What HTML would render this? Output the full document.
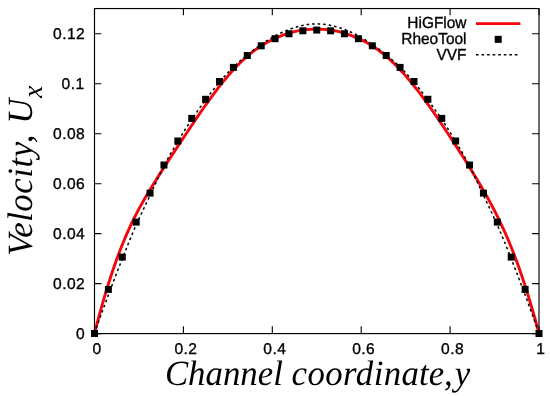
<!DOCTYPE html>
<html><head><meta charset="utf-8"><title>Velocity profile</title>
<style>
html,body{margin:0;padding:0;background:#fff;}
body{width:550px;height:396px;overflow:hidden;}
svg{display:block;}
text{text-rendering:geometricPrecision;}
.t{font-family:"Liberation Sans",sans-serif;font-size:15.6px;fill:#000;letter-spacing:0.45px;stroke:#000;stroke-width:0.35px;}
.k{font-family:"Liberation Sans",sans-serif;font-size:16px;fill:#000;stroke:#000;stroke-width:0.35px;}
.l{font-family:"Liberation Serif",serif;font-style:italic;fill:#000;}
</style></head><body>
<svg width="550" height="396" viewBox="0 0 550 396">
<rect width="550" height="396" fill="#fff"/>

<g stroke="#000" stroke-width="1.1" fill="none">
<path d="M94.50,333.6 v-7.3 M94.50,8.55 v6.8"/>
<path d="M183.40,333.6 v-7.3 M183.40,8.55 v6.8"/>
<path d="M272.30,333.6 v-7.3 M272.30,8.55 v6.8"/>
<path d="M361.20,333.6 v-7.3 M361.20,8.55 v6.8"/>
<path d="M450.10,333.6 v-7.3 M450.10,8.55 v6.8"/>
<path d="M539.00,333.6 v-7.3 M539.00,8.55 v6.8"/>
<path d="M94.5,333.60 h6.9 M539.0,333.60 h-6.9"/>
<path d="M94.5,283.63 h6.9 M539.0,283.63 h-6.9"/>
<path d="M94.5,233.66 h6.9 M539.0,233.66 h-6.9"/>
<path d="M94.5,183.69 h6.9 M539.0,183.69 h-6.9"/>
<path d="M94.5,133.72 h6.9 M539.0,133.72 h-6.9"/>
<path d="M94.5,83.75 h6.9 M539.0,83.75 h-6.9"/>
<path d="M94.5,33.78 h6.9 M539.0,33.78 h-6.9"/>
</g>
<text class="t" x="85.2" y="339.00" text-anchor="end">0</text>
<text class="t" x="85.2" y="289.03" text-anchor="end">0.02</text>
<text class="t" x="85.2" y="239.06" text-anchor="end">0.04</text>
<text class="t" x="85.2" y="189.09" text-anchor="end">0.06</text>
<text class="t" x="85.2" y="139.12" text-anchor="end">0.08</text>
<text class="t" x="84.60000000000001" y="89.15" text-anchor="end">0.1</text>
<text class="t" x="85.2" y="39.18" text-anchor="end">0.12</text>
<text class="t" x="97.00" y="353.8" text-anchor="middle">0</text>
<text class="t" x="185.90" y="353.8" text-anchor="middle">0.2</text>
<text class="t" x="274.80" y="353.8" text-anchor="middle">0.4</text>
<text class="t" x="363.70" y="353.8" text-anchor="middle">0.6</text>
<text class="t" x="452.60" y="353.8" text-anchor="middle">0.8</text>
<text class="t" x="540.70" y="353.8" text-anchor="middle">1</text>
<path d="M94.50,333.50 L96.72,324.83 L98.94,316.45 L101.17,308.36 L103.39,300.54 L105.61,293.01 L107.84,285.74 L110.06,278.73 L112.28,271.98 L114.50,265.49 L116.72,259.25 L118.95,253.25 L121.17,247.49 L123.39,241.97 L125.62,236.66 L127.84,231.58 L130.06,226.69 L132.28,221.99 L134.50,217.48 L136.73,213.13 L138.95,208.93 L141.17,204.87 L143.40,200.93 L145.62,197.09 L147.84,193.34 L150.06,189.65 L152.28,186.02 L154.51,182.43 L156.73,178.88 L158.95,175.36 L161.18,171.88 L163.40,168.42 L165.62,164.98 L167.84,161.56 L170.06,158.16 L172.29,154.76 L174.51,151.38 L176.73,148.00 L178.96,144.62 L181.18,141.25 L183.40,137.89 L185.62,134.53 L187.84,131.18 L190.07,127.84 L192.29,124.52 L194.51,121.22 L196.74,117.93 L198.96,114.67 L201.18,111.43 L203.40,108.23 L205.62,105.06 L207.85,101.93 L210.07,98.84 L212.29,95.80 L214.52,92.80 L216.74,89.86 L218.96,86.98 L221.18,84.16 L223.41,81.40 L225.63,78.71 L227.85,76.09 L230.07,73.53 L232.30,71.04 L234.52,68.62 L236.74,66.27 L238.96,64.00 L241.19,61.80 L243.41,59.69 L245.63,57.66 L247.85,55.72 L250.08,53.88 L252.30,52.12 L254.52,50.45 L256.74,48.85 L258.97,47.34 L261.19,45.90 L263.41,44.53 L265.63,43.23 L267.86,42.00 L270.08,40.82 L272.30,39.71 L274.52,38.66 L276.75,37.65 L278.97,36.70 L281.19,35.81 L283.41,34.97 L285.63,34.18 L287.86,33.45 L290.08,32.77 L292.30,32.14 L294.52,31.58 L296.75,31.07 L298.97,30.63 L301.19,30.24 L303.42,29.93 L305.64,29.67 L307.86,29.48 L310.08,29.34 L312.31,29.25 L314.53,29.21 L316.75,29.20 L318.97,29.23 L321.20,29.29 L323.42,29.40 L325.64,29.56 L327.86,29.76 L330.09,30.02 L332.31,30.35 L334.53,30.73 L336.75,31.18 L338.98,31.68 L341.20,32.25 L343.42,32.87 L345.64,33.55 L347.87,34.28 L350.09,35.07 L352.31,35.91 L354.53,36.80 L356.75,37.75 L358.98,38.76 L361.20,39.81 L363.42,40.92 L365.65,42.09 L367.87,43.33 L370.09,44.63 L372.31,46.00 L374.54,47.44 L376.76,48.96 L378.98,50.55 L381.20,52.23 L383.43,53.98 L385.65,55.83 L387.87,57.75 L390.09,59.77 L392.31,61.86 L394.54,64.03 L396.76,66.27 L398.98,68.58 L401.21,70.95 L403.43,73.39 L405.65,75.89 L407.87,78.45 L410.10,81.08 L412.32,83.76 L414.54,86.51 L416.76,89.33 L418.99,92.20 L421.21,95.13 L423.43,98.11 L425.65,101.14 L427.88,104.22 L430.10,107.34 L432.32,110.50 L434.54,113.69 L436.77,116.92 L438.99,120.18 L441.21,123.47 L443.43,126.79 L445.66,130.13 L447.88,133.50 L450.10,136.88 L452.32,140.29 L454.55,143.71 L456.77,147.15 L458.99,150.61 L461.21,154.09 L463.44,157.58 L465.66,161.10 L467.88,164.65 L470.10,168.21 L472.33,171.81 L474.55,175.44 L476.77,179.11 L478.99,182.83 L481.22,186.60 L483.44,190.43 L485.66,194.33 L487.88,198.30 L490.11,202.35 L492.33,206.50 L494.55,210.76 L496.77,215.13 L499.00,219.62 L501.22,224.26 L503.44,229.04 L505.66,233.99 L507.89,239.12 L510.11,244.44 L512.33,249.96 L514.55,255.69 L516.78,261.63 L519.00,267.79 L521.22,274.17 L523.44,280.78 L525.66,287.61 L527.89,294.67 L530.11,301.96 L532.33,309.49 L534.56,317.25 L536.78,325.25 L539.00,333.50" fill="none" stroke="#f4060e" stroke-width="2.9" stroke-linejoin="round"/>
<path d="M94.50,333.50 L96.72,327.15 L98.94,320.87 L101.17,314.68 L103.39,308.55 L105.61,302.49 L107.84,296.49 L110.06,290.55 L112.28,284.67 L114.50,278.84 L116.72,273.06 L118.95,267.33 L121.17,261.63 L123.39,255.98 L125.62,250.37 L127.84,244.82 L130.06,239.37 L132.28,234.03 L134.50,228.81 L136.73,223.75 L138.95,218.84 L141.17,214.05 L143.40,209.34 L145.62,204.67 L147.84,200.01 L150.06,195.30 L152.28,190.53 L154.51,185.73 L156.73,180.94 L158.95,176.21 L161.18,171.58 L163.40,167.09 L165.62,162.79 L167.84,158.67 L170.06,154.69 L172.29,150.83 L174.51,147.06 L176.73,143.35 L178.96,139.66 L181.18,135.99 L183.40,132.35 L185.62,128.77 L187.84,125.25 L190.07,121.81 L192.29,118.48 L194.51,115.24 L196.74,112.10 L198.96,109.02 L201.18,105.99 L203.40,102.99 L205.62,100.00 L207.85,97.01 L210.07,94.04 L212.29,91.09 L214.52,88.20 L216.74,85.39 L218.96,82.66 L221.18,80.05 L223.41,77.55 L225.63,75.15 L227.85,72.82 L230.07,70.57 L232.30,68.38 L234.52,66.23 L236.74,64.12 L238.96,62.06 L241.19,60.05 L243.41,58.09 L245.63,56.18 L247.85,54.35 L250.08,52.57 L252.30,50.86 L254.52,49.20 L256.74,47.59 L258.97,46.03 L261.19,44.50 L263.41,43.01 L265.63,41.55 L267.86,40.14 L270.08,38.78 L272.30,37.46 L274.52,36.21 L276.75,35.01 L278.97,33.87 L281.19,32.80 L283.41,31.78 L285.63,30.82 L287.86,29.93 L290.08,29.09 L292.30,28.31 L294.52,27.58 L296.75,26.92 L298.97,26.31 L301.19,25.77 L303.42,25.28 L305.64,24.86 L307.86,24.51 L310.08,24.23 L312.31,24.02 L314.53,23.89 L316.75,23.85 L318.97,23.89 L321.20,24.02 L323.42,24.23 L325.64,24.51 L327.86,24.86 L330.09,25.28 L332.31,25.77 L334.53,26.31 L336.75,26.92 L338.98,27.58 L341.20,28.31 L343.42,29.09 L345.64,29.93 L347.87,30.82 L350.09,31.78 L352.31,32.80 L354.53,33.87 L356.75,35.01 L358.98,36.21 L361.20,37.46 L363.42,38.78 L365.65,40.14 L367.87,41.55 L370.09,43.01 L372.31,44.50 L374.54,46.03 L376.76,47.59 L378.98,49.20 L381.20,50.86 L383.43,52.57 L385.65,54.35 L387.87,56.18 L390.09,58.09 L392.31,60.05 L394.54,62.06 L396.76,64.12 L398.98,66.23 L401.21,68.38 L403.43,70.57 L405.65,72.82 L407.87,75.15 L410.10,77.55 L412.32,80.05 L414.54,82.66 L416.76,85.39 L418.99,88.20 L421.21,91.09 L423.43,94.04 L425.65,97.01 L427.88,100.00 L430.10,102.99 L432.32,105.99 L434.54,109.02 L436.77,112.10 L438.99,115.24 L441.21,118.48 L443.43,121.81 L445.66,125.25 L447.88,128.77 L450.10,132.35 L452.32,135.99 L454.55,139.66 L456.77,143.35 L458.99,147.06 L461.21,150.83 L463.44,154.69 L465.66,158.67 L467.88,162.79 L470.10,167.09 L472.33,171.58 L474.55,176.21 L476.77,180.94 L478.99,185.73 L481.22,190.53 L483.44,195.30 L485.66,200.01 L487.88,204.67 L490.11,209.34 L492.33,214.05 L494.55,218.84 L496.77,223.75 L499.00,228.81 L501.22,234.03 L503.44,239.37 L505.66,244.82 L507.89,250.37 L510.11,255.98 L512.33,261.63 L514.55,267.33 L516.78,273.06 L519.00,278.84 L521.22,284.67 L523.44,290.55 L525.66,296.49 L527.89,302.49 L530.11,308.55 L532.33,314.68 L534.56,320.87 L536.78,327.15 L539.00,333.50" fill="none" stroke="#000" stroke-width="1.5" stroke-dasharray="2.6 2.95"/>
<g fill="#000">
<rect x="91.00" y="330.00" width="7" height="7"/>
<rect x="104.89" y="285.90" width="7" height="7"/>
<rect x="118.78" y="253.60" width="7" height="7"/>
<rect x="132.67" y="218.60" width="7" height="7"/>
<rect x="146.56" y="189.60" width="7" height="7"/>
<rect x="160.45" y="161.55" width="7" height="7"/>
<rect x="174.34" y="137.50" width="7" height="7"/>
<rect x="188.23" y="114.90" width="7" height="7"/>
<rect x="202.12" y="95.80" width="7" height="7"/>
<rect x="216.02" y="78.00" width="7" height="7"/>
<rect x="229.91" y="63.90" width="7" height="7"/>
<rect x="243.80" y="52.00" width="7" height="7"/>
<rect x="257.69" y="42.30" width="7" height="7"/>
<rect x="271.58" y="35.20" width="7" height="7"/>
<rect x="285.47" y="30.25" width="7" height="7"/>
<rect x="299.36" y="27.30" width="7" height="7"/>
<rect x="313.25" y="26.55" width="7" height="7"/>
<rect x="327.14" y="27.30" width="7" height="7"/>
<rect x="341.03" y="30.25" width="7" height="7"/>
<rect x="354.92" y="35.20" width="7" height="7"/>
<rect x="368.81" y="42.30" width="7" height="7"/>
<rect x="382.70" y="52.00" width="7" height="7"/>
<rect x="396.59" y="63.90" width="7" height="7"/>
<rect x="410.48" y="78.00" width="7" height="7"/>
<rect x="424.38" y="95.80" width="7" height="7"/>
<rect x="438.27" y="114.90" width="7" height="7"/>
<rect x="452.16" y="137.50" width="7" height="7"/>
<rect x="466.05" y="161.55" width="7" height="7"/>
<rect x="479.94" y="189.60" width="7" height="7"/>
<rect x="493.83" y="218.60" width="7" height="7"/>
<rect x="507.72" y="253.60" width="7" height="7"/>
<rect x="521.61" y="285.90" width="7" height="7"/>
<rect x="535.50" y="330.00" width="7" height="7"/>
</g>
<rect x="94.5" y="8.55" width="444.50" height="325.05" fill="none" stroke="#000" stroke-width="1.15"/>
<text class="k" transform="translate(466.5,28.4) scale(0.965,1)" text-anchor="end">HiGFlow</text>
<text class="k" transform="translate(466.5,43.9) scale(0.965,1)" text-anchor="end">RheoTool</text>
<text class="k" transform="translate(466.5,59.5) scale(0.965,1)" text-anchor="end">VVF</text>
<path d="M476,23.65 H520.4" stroke="#f4060e" stroke-width="2.9" fill="none"/>
<rect x="494.7" y="35.85" width="7" height="7" fill="#000"/>
<path d="M476,54.8 H517.6" stroke="#000" stroke-width="1.5" stroke-dasharray="2.6 2.95" fill="none"/>
<text class="l" font-size="35.5" transform="translate(164.9,384.6) scale(0.98,1)">Channel <tspan letter-spacing="0.46">coordin</tspan>ate,<tspan dx="2">y</tspan></text>
<text class="l" font-size="35.5" transform="translate(32.2,255.8) rotate(-90) scale(0.98,1)" letter-spacing="0.56" word-spacing="1">Velocity, U<tspan font-size="28.4" dy="10">x</tspan></text>
</svg></body></html>
